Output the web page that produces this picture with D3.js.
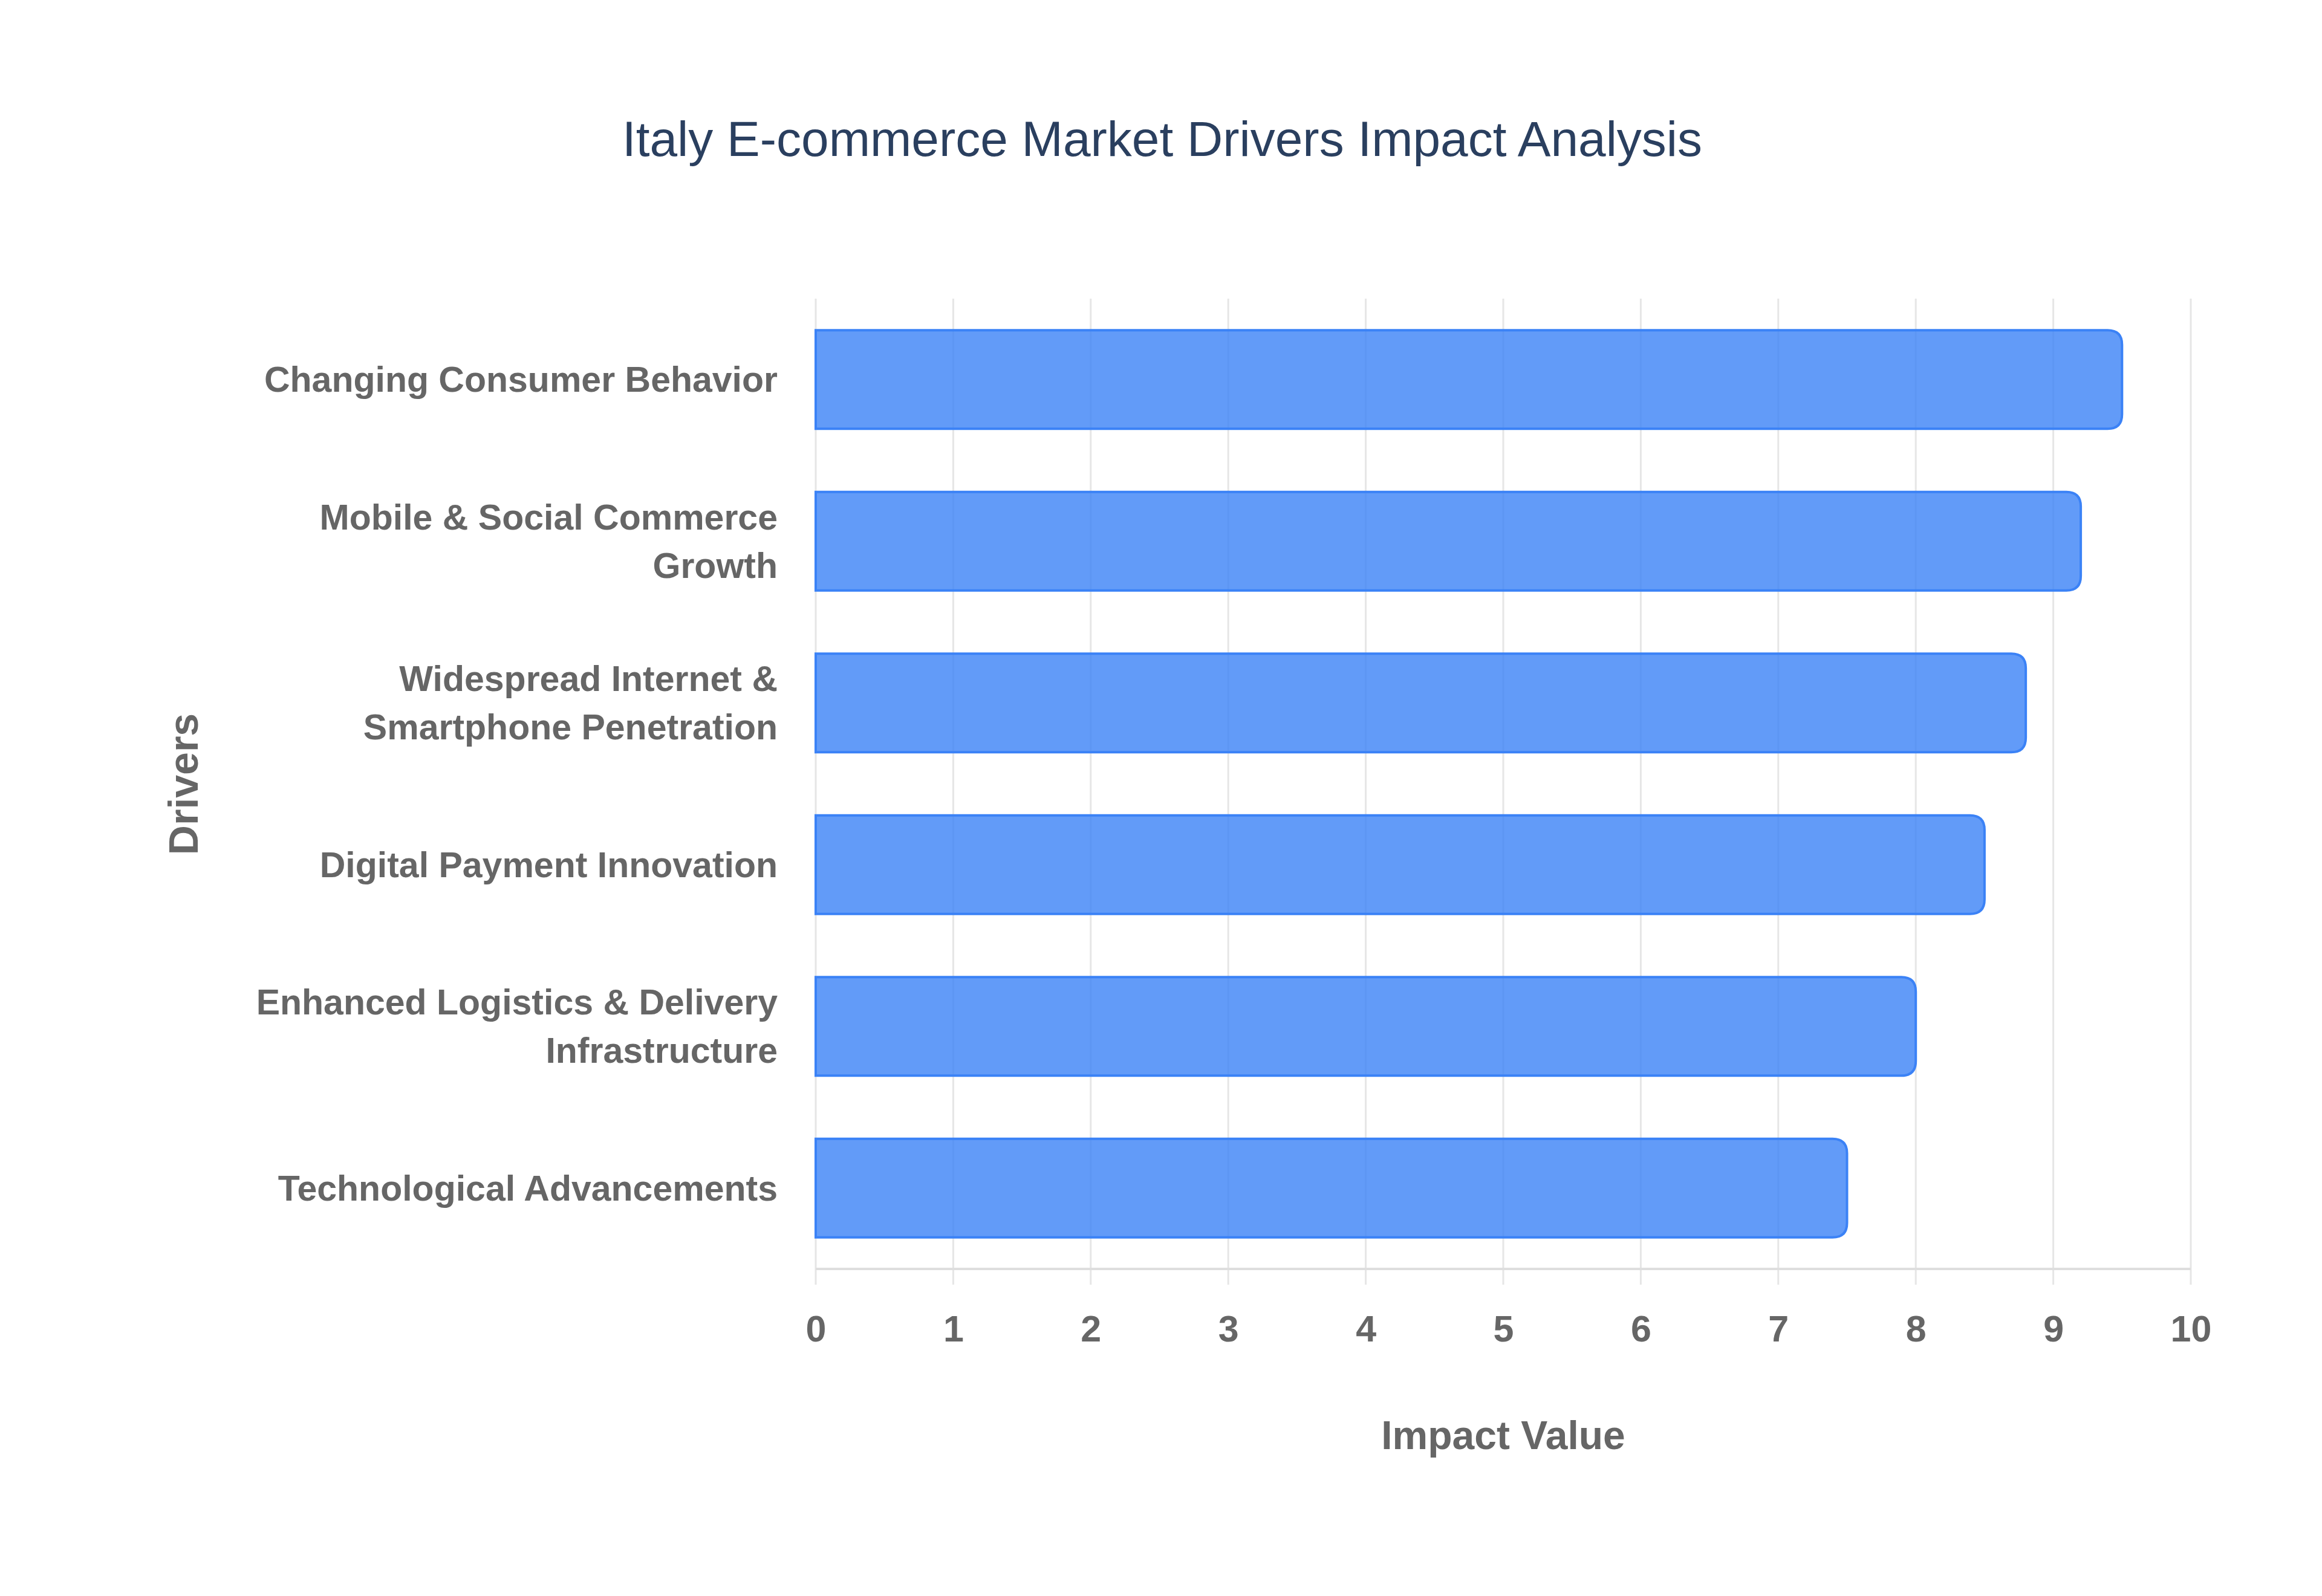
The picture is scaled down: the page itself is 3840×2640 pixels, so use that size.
<!DOCTYPE html>
<html>
<head>
<meta charset="utf-8">
<script src="https://cdn.jsdelivr.net/npm/d3@7"></script>
<style>
  html, body { margin: 0; padding: 0; background: #ffffff; }
  svg { display: block; }
</style>
</head>
<body>
<svg id="chart"></svg>
<script>
const width = 3840;
const height = 2640;

// data
const drivers = [
    "Changing Consumer Behavior",
    "Mobile & Social Commerce Growth",
    "Widespread Internet & Smartphone Penetration",
    "Digital Payment Innovation",
    "Enhanced Logistics & Delivery Infrastructure",
    "Technological Advancements"
];
const driverLines = [
    ["Changing Consumer Behavior"],
    ["Mobile & Social Commerce", "Growth"],
    ["Widespread Internet &", "Smartphone Penetration"],
    ["Digital Payment Innovation"],
    ["Enhanced Logistics & Delivery", "Infrastructure"],
    ["Technological Advancements"]
];
const impactValues = [9.5, 9.2, 8.8, 8.5, 8.0, 7.5];
const xDomain = [0, 10];

const titleText = "Italy E-commerce Market Drivers Impact Analysis";
const xTitle = "Impact Value";
const yTitle = "Drivers";

let margin = {top: 494, right: 217, bottom: 541, left: 1349},
    plotWidth = width - margin.left - margin.right,
    plotHeight = height - margin.top - margin.bottom;

const svg = d3.select("#chart")
    .attr("width", width)
    .attr("height", height)
    .attr("viewBox", [0, 0, width, height]);

svg.append("rect")
    .attr("width", width)
    .attr("height", height)
    .attr("fill", "#ffffff");

const x = d3.scaleLinear()
    .domain(xDomain)
    .range([0, plotWidth]);

const y = d3.scaleBand()
    .domain(drivers)
    .range([0, plotHeight])
    .paddingInner(0.39)
    .paddingOuter(0.195);

const g = svg.append("g")
    .attr("transform", `translate(${margin.left}, ${margin.top})`);

// vertical grid lines, running a little past the axis like tick marks
g.append("g")
    .selectAll("line")
    .data(x.ticks(10))
    .join("line")
    .attr("x1", d => x(d))
    .attr("x2", d => x(d))
    .attr("y1", 0)
    .attr("y2", plotHeight + 26)
    .attr("stroke", "#e6e6e6")
    .attr("stroke-width", 3);

// bottom axis line
g.append("line")
    .attr("x1", 0)
    .attr("x2", plotWidth)
    .attr("y1", plotHeight)
    .attr("y2", plotHeight)
    .attr("stroke", "#dedede")
    .attr("stroke-width", 4);

// bars: square at the base, rounded at the end
const r = 24;
function barPath(d, i) {
    const x0 = x(0), x1 = x(d);
    const y0 = y(drivers[i]), y1 = y0 + y.bandwidth();
    return `M${x0},${y0}H${x1 - r}Q${x1},${y0} ${x1},${y0 + r}` +
        `V${y1 - r}Q${x1},${y1} ${x1 - r},${y1}H${x0}Z`;
}

g.append("g")
    .selectAll("path")
    .data(impactValues)
    .join("path")
    .attr("d", barPath)
    .attr("fill", "rgba(59, 130, 246, 0.8)")
    .attr("stroke", "#3b82f6")
    .attr("stroke-width", 4);

// x tick labels
const xAxis = g.append("g")
    .attr("transform", `translate(0, ${plotHeight})`)
    .call(d3.axisBottom(x).ticks(10).tickSize(0).tickPadding(77));
xAxis.select(".domain").remove();
xAxis.selectAll("text")
    .attr("font-family", "'Liberation Sans', Arial, sans-serif")
    .attr("font-weight", "bold")
    .attr("font-size", 61)
    .attr("fill", "#666666");

// y tick labels, wrapped
const yAxis = g.append("g");
drivers.forEach((name, i) => {
    const lines = driverLines[i];
    const lh = 80;
    const cy = y(name) + y.bandwidth() / 2;
    const t = yAxis.append("text")
        .attr("x", -63)
        .attr("text-anchor", "end")
        .attr("font-family", "'Liberation Sans', Arial, sans-serif")
        .attr("font-weight", "bold")
        .attr("font-size", 59)
        .attr("fill", "#666666");
    lines.forEach((line, j) => {
        t.append("tspan")
            .attr("x", -63)
            .attr("y", cy + (j - (lines.length - 1) / 2) * lh)
            .attr("dy", "0.35em")
            .text(line);
    });
});

// title
svg.append("text")
    .attr("x", 1922)
    .attr("y", 258)
    .attr("text-anchor", "middle")
    .attr("font-family", "'Liberation Sans', Arial, sans-serif")
    .attr("font-size", 82)
    .attr("fill", "#2a3f5f")
    .text(titleText);

// axis titles
svg.append("text")
    .attr("x", margin.left + plotWidth / 2)
    .attr("y", 2397)
    .attr("text-anchor", "middle")
    .attr("font-family", "'Liberation Sans', Arial, sans-serif")
    .attr("font-weight", "bold")
    .attr("font-size", 66)
    .attr("fill", "#666666")
    .text(xTitle);

svg.append("text")
    .attr("transform", `translate(327, 1297) rotate(-90)`)
    .attr("text-anchor", "middle")
    .attr("font-family", "'Liberation Sans', Arial, sans-serif")
    .attr("font-weight", "bold")
    .attr("font-size", 68)
    .attr("fill", "#666666")
    .text(yTitle);
</script>
</body>
</html>
